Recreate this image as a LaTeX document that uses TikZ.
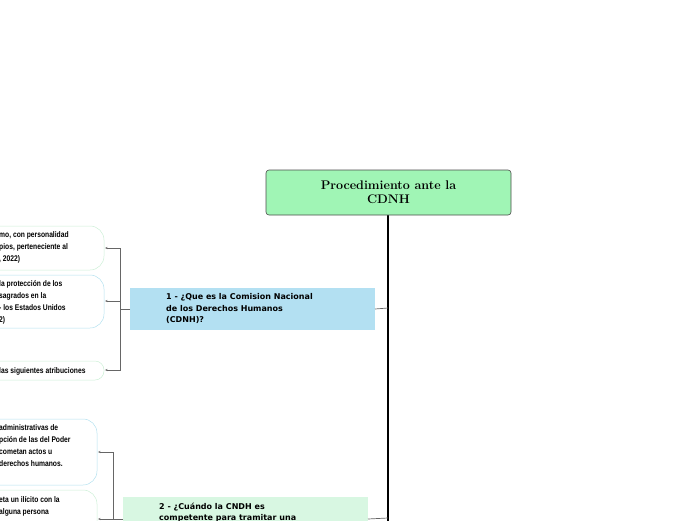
\documentclass[tikz,border=0pt]{standalone}
\usepackage{fontspec}
\usetikzlibrary{arrows.meta}
\newfontfamily\nar[FakeStretch=0.82]{Liberation Sans}
\newfontfamily\dej{DejaVu Sans}
\definecolor{rootg}{RGB}{160,245,181}
\definecolor{b1c}{RGB}{179,224,242}
\definecolor{b2c}{RGB}{216,247,226}
\definecolor{gbc}{RGB}{205,240,215}
\definecolor{bbc}{RGB}{180,225,240}
\begin{document}
\begin{tikzpicture}[x=1pt,y=-1pt,
  root/.style={draw=black!70,fill=rootg,rounded corners=3pt,line width=0.6pt},
  child/.style={draw,fill=white,rounded corners=14pt,line width=0.5pt},
  ctext/.style={anchor=west,font=\nar\bfseries\fontsize{8.2}{12}\selectfont,align=left,inner sep=0pt},
  ttext/.style={anchor=north west,font=\dej\bfseries\fontsize{8}{11.5}\selectfont,align=left,inner sep=0pt},
  conn/.style={draw=black!60,line width=0.7pt},
  arr/.style={conn,-{Stealth[length=2.5pt,width=2pt]}},
  gb/.style={draw=gbc},
  bb/.style={draw=bbc}]
\useasboundingbox (0,0) rectangle (696,520);
\clip (0,0) rectangle (696,520);
% trunk
\coordinate (t0) at (388,215);
\coordinate (t1) at (388,522);
\draw[line width=1.4pt] (t0) -- (t1);
% root
\path[root] (266,170) rectangle (511,215);
\node[font=\bfseries\fontsize{12.5}{14}\selectfont,align=center] (root) at (388.5,192) {Procedimiento ante la\\CDNH};
% branch 1
\fill[b1c] (130,288) rectangle (375,330);
\node[ttext] (b1) at (166,293.5) {1 - ¿Que es la Comision Nacional\\de los Derechos Humanos\\(CDNH)?};
\coordinate (b1r) at (375,309);
\coordinate (b1l) at (130,309);
\draw[conn] (b1r) -- (388,308);
% branch 2
\fill[b2c] (123,497) rectangle (368,530);
\node[ttext] (b2) at (159,502.5) {2 - ¿Cuándo la CNDH es\\competente para tramitar una};
\coordinate (b2r) at (368,519);
\coordinate (b2l) at (123,519);
\draw[conn] (b2r) -- (388,518);
% children of 1
\path[child,gb] (-30,226) rectangle (104,270);
\node[ctext] (c1) at (-1,247.5) {mo, con personalidad\\pios, perteneciente al\\, 2022)};
\path[child,bb] (-30,275) rectangle (104,328);
\node[ctext] (c2) at (-1,302) {la protección de los\\sagrados en la\\- los Estados Unidos\\2)};
\path[child,gb,rounded corners=9pt] (-30,361) rectangle (104,380);
\node[ctext] (c3) at (-1,371) {las siguientes atribuciones};
\coordinate (j1) at (120,309);
\draw[conn] (b1l) -- (j1);
\draw[arr] (j1) |- (105,248);
\draw[arr] (j1) -- (120,301) -- (105,301);
\draw[arr] (j1) |- (105,370);
% children of 2
\path[child,bb] (-30,419) rectangle (97,485);
\node[ctext] (c4) at (-1,446) {administrativas de\\pción de las del Poder\\ cometan actos u\\derechos humanos.};
\path[child,gb] (-30,490) rectangle (97,540);
\node[ctext] (c5) at (-1,506.5) {eta un ilícito con la\\alguna persona};
\coordinate (j2) at (113,519);
\draw[conn] (b2l) -- (j2);
\draw[arr] (j2) |- (98,452);
\draw[arr] (j2) -- (98,519);
\end{tikzpicture}
\end{document}
